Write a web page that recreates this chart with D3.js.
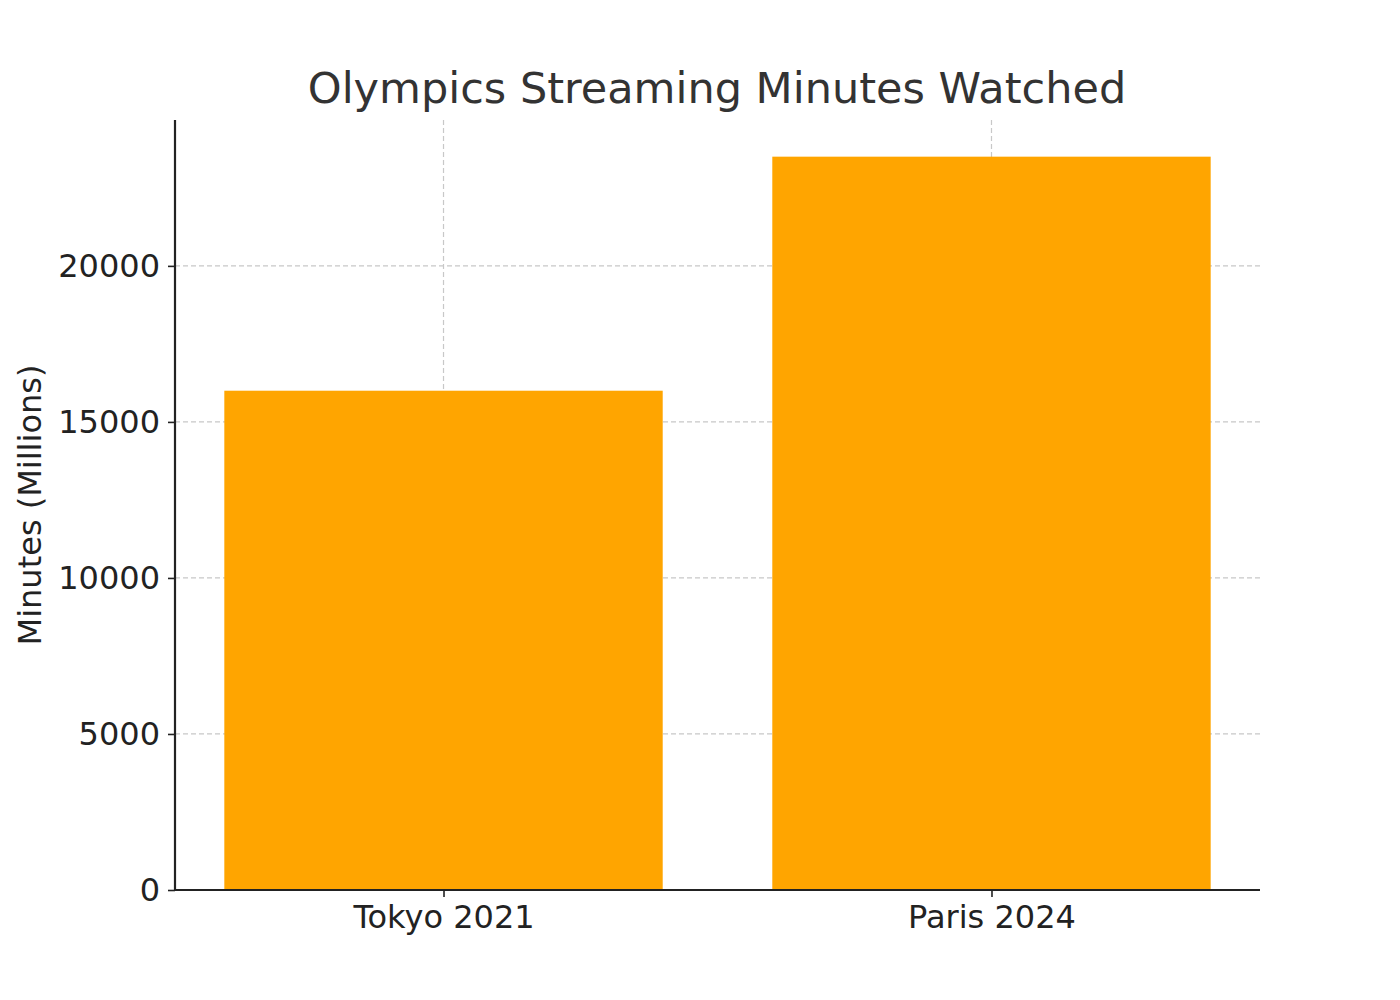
<!DOCTYPE html>
<html><head><meta charset="utf-8">
<script src="https://cdn.jsdelivr.net/npm/d3@7"></script>
<style>body{margin:0;background:#fff}text{font-family:"DejaVu Sans",sans-serif}</style>
</head><body><svg id="c" width="1400" height="1000"></svg>
<script>
const categories = ["Tokyo 2021", "Paris 2024"];
const values = [16000, 23500];
const yTicks = [0, 5000, 10000, 15000, 20000];

const svg = d3.select("#c");
const L = 175, R = 1260, T = 120, B = 890;
const x = d3.scaleLinear().domain([-0.49, 1.49]).range([L, R]);
const y = d3.scaleLinear().domain([0, 24675]).range([B, T]);
const bw = x(0.4) - x(-0.4);

// grid
svg.append("g").selectAll("line").data(yTicks).join("line")
  .attr("x1", L).attr("x2", R).attr("y1", d => y(d)).attr("y2", d => y(d))
  .attr("stroke", "#c8c8c8").attr("stroke-width", 1.2).attr("stroke-dasharray", "5,3");
svg.append("g").selectAll("line").data(categories).join("line")
  .attr("x1", (d, i) => x(i)).attr("x2", (d, i) => x(i)).attr("y1", T).attr("y2", B)
  .attr("stroke", "#c8c8c8").attr("stroke-width", 1.2).attr("stroke-dasharray", "5,3");

// bars
svg.append("g").selectAll("rect").data(values).join("rect")
  .attr("x", (d, i) => x(i) - bw / 2).attr("width", bw)
  .attr("y", d => y(d)).attr("height", d => B - y(d))
  .attr("fill", "#ffa500");

// axes
const ya = svg.append("g").attr("transform", `translate(${L},0)`)
  .call(d3.axisLeft(y).tickValues(yTicks).tickSize(7).tickPadding(8).tickFormat(d3.format("d")));
const xa = svg.append("g").attr("transform", `translate(0,${B})`)
  .call(d3.axisBottom(x).tickValues([0, 1]).tickSize(7).tickPadding(8).tickFormat(i => categories[i]));
[ya, xa].forEach(a => {
  a.select(".domain").attr("stroke", "#222").attr("stroke-width", 2.2);
  a.selectAll(".tick line").attr("stroke", "#222").attr("stroke-width", 1.6);
  a.selectAll("text").attr("font-size", 32).attr("fill", "#222").style("font-family", "DejaVu Sans");
});
ya.select(".domain").attr("d", `M0,${B}V${T}`);
xa.select(".domain").attr("d", `M${L},0H${R}`);

svg.append("text").attr("x", 717).attr("y", 103).attr("text-anchor", "middle")
  .attr("font-size", 43).attr("fill", "#333").text("Olympics Streaming Minutes Watched");
svg.append("text").attr("transform", "translate(41,505) rotate(-90)").attr("text-anchor", "middle")
  .attr("font-size", 32).attr("fill", "#222").text("Minutes (Millions)");
</script></body></html>
